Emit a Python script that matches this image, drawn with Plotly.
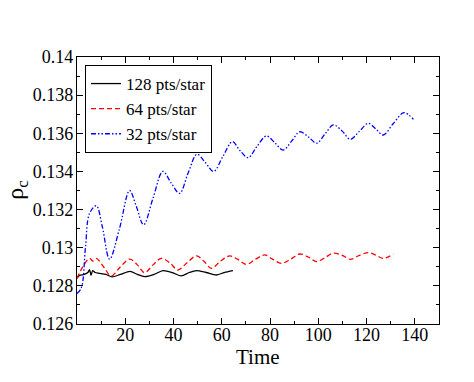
import plotly.graph_objects as go

# --- data ---
t_128 = [0, 1, 3, 4.5, 5.2, 5.8, 6.5, 7.5, 9.3, 12, 14.5, 18, 22, 25, 28, 32, 35.6,
         39.5, 43.2, 46.5, 49.5, 53.5, 57.8, 61, 64.6]
rho_128 = [0.1284, 0.12855, 0.1286, 0.1287, 0.12885, 0.12855, 0.1288, 0.1287, 0.12866,
           0.1286, 0.12847, 0.1286, 0.12876, 0.1286, 0.12848, 0.1286, 0.1288, 0.1287,
           0.12852, 0.1287, 0.1288, 0.1287, 0.12857, 0.1287, 0.1288]

t_64 = [0, 2.4, 5.2, 6.6, 8, 11, 14.2, 18, 21.8, 25, 28, 31.5, 34.9, 38.5, 41.8, 45.5,
        49.5, 52.5, 55.7, 59.5, 63.3, 66.5, 70.2, 74, 77.8, 81, 84.7, 88.5, 92.3, 96,
        99.3, 103, 106.2, 110, 113.2, 117, 120.7, 124, 126.9, 131.1]
rho_64 = [0.1284, 0.1290, 0.12944, 0.1293, 0.12944, 0.1290, 0.12852, 0.1290, 0.12940,
          0.1291, 0.12869, 0.1291, 0.12944, 0.1292, 0.12883, 0.1292, 0.12957, 0.1293,
          0.12892, 0.1293, 0.12957, 0.1294, 0.12913, 0.1294, 0.12962, 0.1294, 0.12918,
          0.1294, 0.12967, 0.1295, 0.12927, 0.1295, 0.12971, 0.1296, 0.12939, 0.1296,
          0.12974, 0.1296, 0.12944, 0.12967]

t_32 = [0, 1.8, 3.5, 5.2, 8, 10.5, 13.5, 17.6, 21.8, 24.5, 27.6, 31.5, 35.6, 39, 42.5,
        46, 49.7, 53, 56.6, 60.5, 64.4, 67.5, 70.9, 74.5, 78.5, 82, 85.4, 89, 92.3, 96,
        99.3, 103, 106.2, 110, 113.2, 117, 120.7, 124, 126.9, 131, 135.5, 139.4]
rho_32 = [0.1276, 0.1279, 0.1300, 0.1318, 0.1322, 0.1311, 0.1294, 0.1310, 0.1330, 0.1322,
          0.1312, 0.1326, 0.1340, 0.1334, 0.13285, 0.1339, 0.1349, 0.1345, 0.1340, 0.1348,
          0.13556, 0.1351, 0.13472, 0.1353, 0.13586, 0.1355, 0.13512, 0.1356, 0.13608,
          0.1358, 0.13548, 0.1360, 0.13644, 0.1361, 0.13568, 0.1361, 0.13652, 0.1362,
          0.13591, 0.1365, 0.13708, 0.13673]

series_names = ["128 pts/star", "64 pts/star", "32 pts/star"]

x_tickvals = [20, 40, 60, 80, 100, 120, 140]
y_tickvals = [0.126, 0.128, 0.13, 0.132, 0.134, 0.136, 0.138, 0.14]
y_ticktext = ["0.126", "0.128", "0.13", "0.132", "0.134", "0.136", "0.138", "0.14"]

x_title = "Time"
y_title = "ρ<sub>c</sub>"

FONT = "Times New Roman, Liberation Serif, serif"

fig = go.Figure()
fig.add_trace(go.Scatter(x=t_128, y=rho_128, mode="lines", name=series_names[0],
                         line=dict(color="black", width=1.3, shape="spline", smoothing=0.8)))
fig.add_trace(go.Scatter(x=t_64, y=rho_64, mode="lines", name=series_names[1],
                         line=dict(color="#ff0000", width=1.3, dash="5px,3px",
                                   shape="spline", smoothing=1.0)))
fig.add_trace(go.Scatter(x=t_32, y=rho_32, mode="lines", name=series_names[2],
                         line=dict(color="#0000ff", width=1.3, dash="5px,2px,1.5px,2px,1.5px,2px",
                                   shape="spline", smoothing=1.0)))

axis_common = dict(showline=True, linecolor="black", linewidth=1.3, mirror="ticks",
                   ticks="inside", ticklen=6, tickwidth=1, tickcolor="black",
                   showgrid=False, zeroline=False, automargin=False,
                   tickfont=dict(family=FONT, size=18, color="black"))

fig.update_xaxes(range=[0, 150], tickmode="array", tickvals=x_tickvals,
                 ticklabelstandoff=-6,
                 minor=dict(ticks="inside", dtick=10, tick0=0, ticklen=3, tickcolor="black"),
                 **axis_common)
fig.update_yaxes(range=[0.126, 0.14], tickmode="array", tickvals=y_tickvals,
                 ticktext=y_ticktext, ticklabelstandoff=-1,
                 minor=dict(ticks="inside", dtick=0.001, tick0=0.126, ticklen=3, tickcolor="black"),
                 **axis_common)

fig.add_annotation(text=x_title, xref="paper", yref="paper", x=0.5, y=-0.124,
                   xanchor="center", yanchor="middle", showarrow=False,
                   font=dict(family=FONT, size=21, color="black"))
fig.add_annotation(text=y_title, xref="paper", yref="paper", x=-0.168, y=0.5,
                   xanchor="center", yanchor="middle", showarrow=False, textangle=-90,
                   font=dict(family=FONT, size=24, color="black"))

fig.update_layout(
    width=474, height=382,
    margin=dict(l=77, r=35, t=57, b=58),
    plot_bgcolor="white", paper_bgcolor="white",
    font=dict(family=FONT, color="black"),
    showlegend=True,
    legend=dict(x=0.022, y=0.97, xanchor="left", yanchor="top",
                bordercolor="black", borderwidth=1, bgcolor="white",
                font=dict(family=FONT, size=17, color="black"),
                tracegroupgap=0),
)

fig.write_html("out.html", post_script="document.body.style.margin='0';",
               config={"displayModeBar": False})
